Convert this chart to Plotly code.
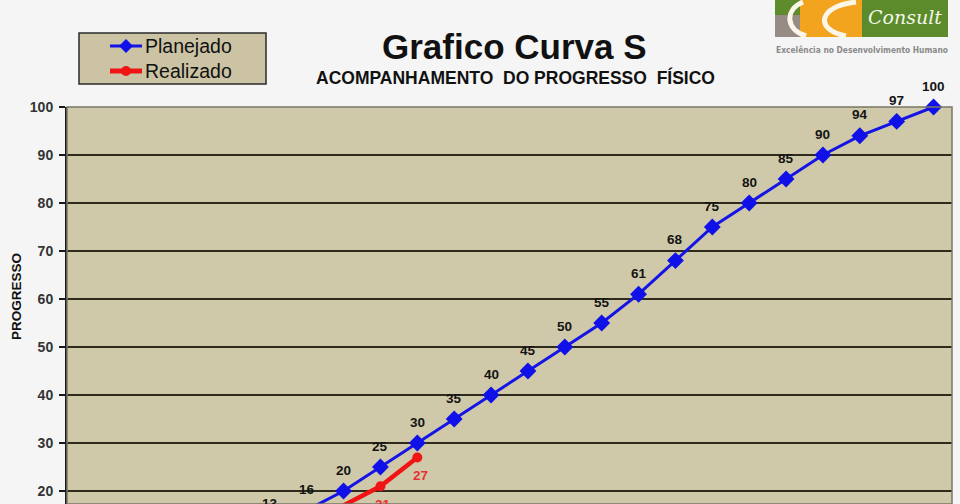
import plotly.graph_objects as go

# Curva S - planejado x realizado (percentual acumulado)
periodos = list(range(1, 25))
planejado = [1, 3, 5, 7, 10, 13, 16, 20, 25, 30, 35, 40, 45, 50, 55, 61, 68, 75, 80, 85, 90, 94, 97, 100]
realizado = [1, 2, 4, 6, 9, 12, 14, 17, 21, 27]
periodos_real = periodos[:len(realizado)]
y_ticks = [20, 30, 40, 50, 60, 70, 80, 90, 100]
Y_MIN, Y_MAX = 17.3, 100   # the picture is cut at the bottom of the window

# plot area in window pixels (used to place the decorations)
L, R, T, B = 67, 952, 107, 504


def px(x):
    return (x - L) / (R - L)


def py(y):
    return (B - y) / (B - T)


def frac(v):
    # value -> fraction of the plot height (same mapping as the y axis)
    return (v - Y_MIN) / (Y_MAX - Y_MIN)


fig = go.Figure()

fig.add_trace(go.Scatter(
    x=periodos, y=planejado, name='Planejado',
    mode='lines+markers',
    line=dict(color='#1414e6', width=3),
    marker=dict(symbol='diamond', size=13, color='#1010e8'),
    cliponaxis=False
))
fig.add_trace(go.Scatter(
    x=periodos_real, y=realizado, name='Realizado',
    mode='lines+markers',
    line=dict(color='#f01414', width=4.5),
    marker=dict(symbol='circle', size=10, color='#f01414'),
    cliponaxis=False
))

annotations = []
# data labels; the ones that would fall under the window are left out
for xv, yv in zip(periodos, planejado):
    if (1 - frac(yv)) * (B - T) + T - 21 < B + 4:
        annotations.append(dict(x=xv, y=frac(yv), xref='x', yref='paper',
                                text=f'<b>{yv}</b>', showarrow=False,
                                xanchor='center', yanchor='middle', yshift=21,
                                font=dict(size=13.5, color='#141414')))
for xv, yv in zip(periodos_real, realizado):
    if (1 - frac(yv)) * (B - T) + T + 18 < B + 4:
        annotations.append(dict(x=xv, y=frac(yv), xref='x', yref='paper',
                                text=f'<b>{yv}</b>', showarrow=False,
                                xanchor='center', yanchor='middle', yshift=-18, xshift=3,
                                font=dict(size=13.5, color='#e83030')))


def note(x, y, text, size, color='#111111', family=None, angle=0, xanchor='center'):
    f = dict(size=size, color=color)
    if family:
        f['family'] = family
    return dict(x=px(x), y=py(y), xref='paper', yref='paper', showarrow=False,
                xanchor=xanchor, yanchor='middle', text=text, textangle=angle, font=f)


annotations += [
    note(514, 47, '<b>Grafico Curva S</b>', 35),
    note(515, 78, '<b>ACOMPANHAMENTO  DO PROGRESSO  FÍSICO</b>', 17.5),
    note(16, 297, '<b>PROGRESSO</b>', 13.5, angle=-90),
    # legend texts
    note(143, 46, 'Planejado', 19.5, xanchor='left'),
    note(143, 71, 'Realizado', 19.5, xanchor='left'),
    # logo
    note(905, 17, '<i>Consult</i>', 19, color='#f4f8e8', family='DejaVu Serif'),
    note(862, 50, '<b>Excelência no Desenvolvimento Humano</b>', 8.4,
         color='#8a8a8a', family='DejaVu Sans Condensed'),
]

shapes = [
    # legend box
    dict(type='rect', xref='paper', yref='paper',
         x0=px(79), x1=px(266), y0=py(84), y1=py(33),
         fillcolor='#cbc3a3', line=dict(color='#2a2a2a', width=1.5)),
    # legend symbols
    dict(type='line', xref='paper', yref='paper', x0=px(110), x1=px(142), y0=py(46), y1=py(46),
         line=dict(color='#1414e6', width=3)),
    dict(type='path', xref='paper', yref='paper',
         path=(f'M {px(126)},{py(39)} L {px(133)},{py(46)} L {px(126)},{py(53)} '
               f'L {px(119)},{py(46)} Z'),
         fillcolor='#1010e8', line=dict(width=0)),
    dict(type='line', xref='paper', yref='paper', x0=px(110), x1=px(142), y0=py(71), y1=py(71),
         line=dict(color='#f01414', width=5)),
    dict(type='circle', xref='paper', yref='paper', x0=px(121), x1=px(131), y0=py(76), y1=py(66),
         fillcolor='#f01414', line=dict(width=0)),
    # plot border right/top
    dict(type='rect', xref='paper', yref='paper', x0=0, x1=1, y0=0, y1=1,
         line=dict(color='#7a7568', width=1.5)),
    # logo blocks
    dict(type='rect', xref='paper', yref='paper', x0=px(775), x1=px(800), y0=py(15), y1=py(0),
         fillcolor='#5e8c2c', line=dict(width=0)),
    dict(type='rect', xref='paper', yref='paper', x0=px(775), x1=px(800), y0=py(37), y1=py(15),
         fillcolor='#978b86', line=dict(width=0)),
    dict(type='rect', xref='paper', yref='paper', x0=px(800), x1=px(862), y0=py(37), y1=py(0),
         fillcolor='#f2a41e', line=dict(width=0)),
    dict(type='rect', xref='paper', yref='paper', x0=px(862), x1=px(948), y0=py(37), y1=py(0),
         fillcolor='#5b8b2b', line=dict(width=0)),
]

# white strokes of the logo letters
curves = [
    [(856, 2), (818, 6), (814, 30), (846, 36)],
    [(803, 2), (784, 10), (786, 30), (806, 36)],
]
for pts in curves:
    (x0, y0), (x1, y1), (x2, y2), (x3, y3) = pts
    path = f'M {px(x0)},{py(y0)} C {px(x1)},{py(y1)} {px(x2)},{py(y2)} {px(x3)},{py(y3)}'
    shapes.append(dict(type='path', xref='paper', yref='paper', path=path,
                       line=dict(color='#fbf6e8', width=5)))

fig.update_layout(
    width=960, height=504,
    margin=dict(l=L, r=960 - R, t=T, b=0, pad=0),
    paper_bgcolor='#f5f5f5',
    plot_bgcolor='#d0c9a9',
    font=dict(family='Arial, Liberation Sans, sans-serif', color='#222222'),
    showlegend=False,
    annotations=annotations,
    shapes=shapes,
)

fig.update_xaxes(range=[0.5, 24.5], showgrid=False, showticklabels=False,
                 zeroline=False, showline=False, ticks='')
fig.update_yaxes(range=[Y_MIN, Y_MAX], tickvals=y_ticks,
                 showgrid=True, gridcolor='#2e2a1c', gridwidth=2,
                 zeroline=False, showline=True, linecolor='#1a1a1a', linewidth=2,
                 ticks='outside', ticklen=6, tickcolor='#1a1a1a', tickwidth=1.5,
                 tickfont=dict(size=14, color='#333333', weight='bold'),
                 ticklabelstandoff=3)

fig.write_html('out.html', config={'displayModeBar': False},
               post_script="document.body.style.margin='0';")
